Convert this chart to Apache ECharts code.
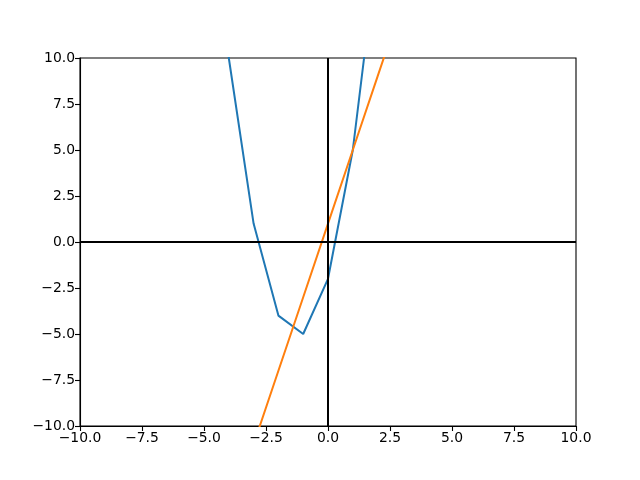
<!DOCTYPE html>
<html>
<head>
<meta charset="utf-8">
<script src="https://cdn.jsdelivr.net/npm/echarts@6/dist/echarts.min.js"></script>
<style>html,body{margin:0;padding:0;background:#fff;}#c{width:640px;height:480px;}</style>
</head>
<body>
<div id="c"></div>
<script>
var curveX = [-5, -4, -3, -2, -1, 0, 1, 2];
var curveY = [23, 10, 1, -4, -5, -2, 5, 16];
var lineX = [-3, -2, -1, 0, 1, 2, 3];
var lineY = [-11, -7, -3, 1, 5, 9, 13];
var hLineX = [-10, 10];
var hLineY = [0, 0];
var vLineX = [0, 0];
var vLineY = [-10, 10];
var tickMin = -10, tickMax = 10, tickStep = 2.5;

function pairs(xs, ys) { return xs.map(function (x, i) { return [x, ys[i]]; }); }
function fmt(v) { return v.toFixed(1).replace('-', '\u2212'); }

var axisCommon = {
  type: 'value', min: tickMin, max: tickMax, interval: tickStep,
  axisLine: { show: true, onZero: false, lineStyle: { color: '#000', width: 1.1 } },
  axisTick: { show: true, inside: false, length: 5, lineStyle: { color: '#000', width: 1.1 } },
  axisLabel: { color: '#000', fontFamily: 'DejaVu Sans', fontSize: 13.9, margin: 5, formatter: fmt },
  splitLine: { show: false }
};
function ax(extra) { return Object.assign({}, JSON.parse(JSON.stringify(axisCommon)), { axisLabel: Object.assign({}, axisCommon.axisLabel) }, extra); }

var chart = echarts.init(document.getElementById('c'), null, { renderer: 'canvas' });
chart.setOption({
  animation: false,
  backgroundColor: '#fff',
  grid: { left: 80, right: 64, top: 58, bottom: 54, show: true, borderColor: '#000', borderWidth: 1.1 },
  xAxis: [ax({ position: 'bottom' })],
  yAxis: [ax({ position: 'left' })],
  series: [
    { type: 'line', data: pairs(curveX, curveY), showSymbol: false, clip: true,
      lineStyle: { color: '#1f77b4', width: 2 }, z: 2 },
    { type: 'line', data: pairs(lineX, lineY), showSymbol: false, clip: true,
      lineStyle: { color: '#ff7f0e', width: 2 }, z: 3 },
    { type: 'line', data: pairs(hLineX, hLineY), showSymbol: false, clip: true,
      lineStyle: { color: '#000', width: 2 }, z: 4 },
    { type: 'line', data: pairs(vLineX, vLineY), showSymbol: false, clip: true,
      lineStyle: { color: '#000', width: 2 }, z: 4 }
  ]
});
</script>
</body>
</html>
